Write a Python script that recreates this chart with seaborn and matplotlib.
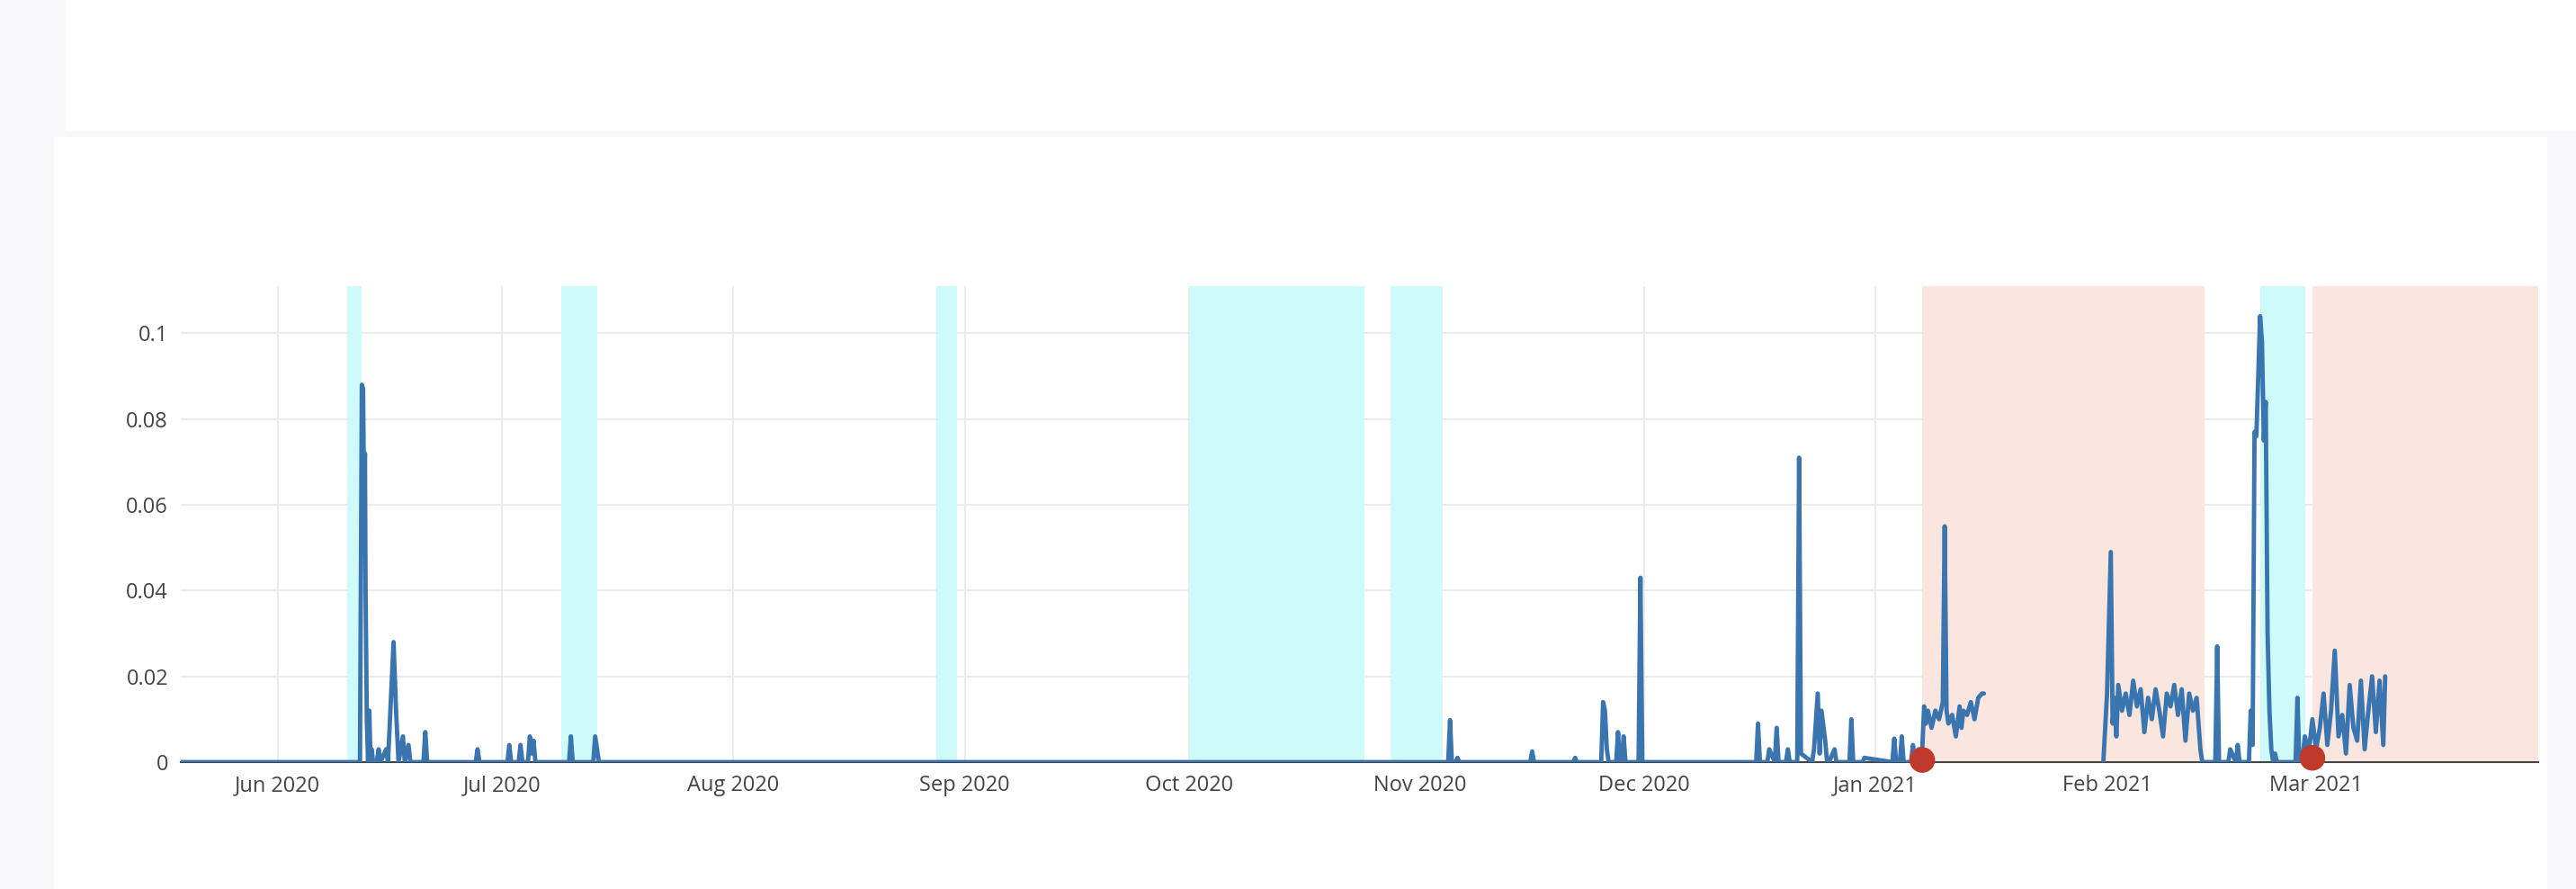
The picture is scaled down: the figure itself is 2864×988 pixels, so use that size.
import matplotlib
matplotlib.use("Agg")
import matplotlib.pyplot as plt
import matplotlib.dates as mdates
import seaborn as sns
import pandas as pd
from matplotlib.patches import Rectangle

sns.set_theme(style="white")
plt.rcParams['font.family'] = ['Open Sans', 'DejaVu Sans']

# ---- data ----
times = [
 "2020-05-18 00","2020-06-12 00","2020-06-12 06","2020-06-12 10","2020-06-12 12","2020-06-12 14","2020-06-12 16","2020-06-12 18","2020-06-12 22","2020-06-13 02","2020-06-13 06","2020-06-13 10","2020-06-13 14","2020-06-13 18",
 "2020-06-14 06","2020-06-14 12","2020-06-14 18","2020-06-15 12","2020-06-15 18","2020-06-16 12","2020-06-16 20","2020-06-17 04","2020-06-17 18","2020-06-18 00","2020-06-18 06","2020-06-18 12","2020-06-18 18","2020-06-20 12","2020-06-20 18","2020-06-21 00",
 "2020-06-27 12","2020-06-27 18","2020-06-28 00","2020-07-01 18","2020-07-02 00","2020-07-02 06","2020-07-03 06","2020-07-03 12","2020-07-03 18","2020-07-04 12","2020-07-04 18","2020-07-05 00","2020-07-05 06","2020-07-05 12",
 "2020-07-10 00","2020-07-10 06","2020-07-10 12","2020-07-13 06","2020-07-13 12","2020-07-13 18","2020-07-14 00",
 "2020-11-04 18","2020-11-05 00","2020-11-05 06","2020-11-05 18","2020-11-06 00","2020-11-06 06","2020-11-15 18","2020-11-16 00","2020-11-16 06","2020-11-21 12","2020-11-21 18","2020-11-22 00",
 "2020-11-25 06","2020-11-25 12","2020-11-25 18","2020-11-26 00","2020-11-26 06","2020-11-27 06","2020-11-27 12","2020-11-27 18","2020-11-28 00","2020-11-28 06","2020-11-28 12","2020-11-30 06","2020-11-30 12","2020-11-30 18",
 "2020-12-16 00","2020-12-16 06","2020-12-16 12","2020-12-17 12","2020-12-17 18","2020-12-18 12","2020-12-18 18","2020-12-19 00","2020-12-20 00","2020-12-20 06","2020-12-20 12","2020-12-21 12","2020-12-21 18","2020-12-22 00","2020-12-23 12","2020-12-23 18","2020-12-24 06","2020-12-24 12","2020-12-24 18","2020-12-25 06","2020-12-25 12","2020-12-25 18","2020-12-26 12","2020-12-26 18","2020-12-28 12","2020-12-28 18","2020-12-29 00","2020-12-30 06","2020-12-30 12",
 "2021-01-03 06","2021-01-03 12","2021-01-03 18","2021-01-04 06","2021-01-04 12","2021-01-04 18","2021-01-05 18","2021-01-06 00","2021-01-06 06","2021-01-06 18",
 "2021-01-07 06","2021-01-07 12","2021-01-07 18","2021-01-08 00","2021-01-08 12","2021-01-09 00","2021-01-09 12","2021-01-10 00","2021-01-10 06","2021-01-10 12","2021-01-10 18","2021-01-11 06","2021-01-11 18","2021-01-12 06","2021-01-12 12","2021-01-12 18","2021-01-13 06","2021-01-13 18","2021-01-14 06","2021-01-14 18","2021-01-15 06","2021-01-15 12","2021-01-15 13",
 "2021-01-31 12","2021-02-01 00","2021-02-01 12","2021-02-01 18","2021-02-02 00","2021-02-02 06","2021-02-02 12","2021-02-03 00","2021-02-03 12","2021-02-04 00","2021-02-04 12","2021-02-05 00","2021-02-05 12","2021-02-06 00","2021-02-06 12","2021-02-07 00","2021-02-07 12","2021-02-08 00","2021-02-08 12","2021-02-09 00","2021-02-09 12","2021-02-10 00","2021-02-10 12","2021-02-11 00","2021-02-11 12","2021-02-12 00","2021-02-12 12","2021-02-13 00","2021-02-13 12","2021-02-13 18",
 "2021-02-15 12","2021-02-15 18","2021-02-16 00","2021-02-17 06","2021-02-17 12","2021-02-18 06","2021-02-18 12","2021-02-18 18",
 "2021-02-20 00","2021-02-20 06","2021-02-20 12","2021-02-20 18","2021-02-21 00","2021-02-21 06","2021-02-21 12","2021-02-21 18","2021-02-22 00","2021-02-22 06","2021-02-22 12","2021-02-22 18","2021-02-23 00","2021-02-23 06","2021-02-23 12","2021-02-23 18",
 "2021-02-26 06","2021-02-26 12","2021-02-26 18","2021-02-27 06","2021-02-27 12","2021-02-28 00","2021-02-28 12","2021-03-01 00","2021-03-01 12","2021-03-02 00","2021-03-02 12","2021-03-03 00","2021-03-03 12","2021-03-04 00","2021-03-04 12","2021-03-05 00","2021-03-05 12","2021-03-06 00","2021-03-06 12","2021-03-07 00","2021-03-07 12","2021-03-08 00","2021-03-08 12","2021-03-09 00","2021-03-09 12","2021-03-10 00","2021-03-10 06",
]
values = [
 0,0,0.088,0.087,0.07,0.063,0.072,0.04,0.01,0,0.012,0,0.003,0,
 0,0.003,0,0.003,0,0.028,0.012,0,0.006,0,0.002,0.004,0,0,0.007,0,
 0,0.003,0,0,0.004,0,0,0.004,0,0,0.006,0.002,0.005,0,
 0,0.006,0,0,0.006,0.003,0,
 0,0.0098,0,0,0.001,0,0,0.0025,0,0,0.001,0,
 0,0.014,0.012,0.003,0,0,0.007,0,0,0.006,0,0,0.043,0,
 0,0.009,0,0,0.003,0,0.008,0,0,0.003,0,0,0.071,0.002,0,0.003,0.016,0.002,0.012,0.005,0,0,0.003,0,0,0.010,0,0,0.001,
 0,0.0055,0,0,0.006,0,0,0.004,0.001,0.003,
 0.003,0.013,0.009,0.012,0.008,0.012,0.01,0.014,0.055,0.012,0.009,0.011,0.006,0.013,0.008,0.012,0.011,0.014,0.01,0.015,0.016,0.016,None,
 0,0.016,0.049,0.009,0.015,0.006,0.018,0.012,0.016,0.011,0.019,0.013,0.017,0.007,0.015,0.01,0.017,0.012,0.006,0.016,0.013,0.018,0.011,0.017,0.005,0.016,0.012,0.015,0.003,0,
 0,0.027,0,0,0.003,0,0.004,0,
 0,0.012,0.004,0.077,0.076,0.09,0.104,0.098,0.075,0.084,0.03,0.012,0.003,0,0.002,0,
 0,0.015,0,0.002,0.006,0.002,0.01,0.003,0.008,0.016,0.004,0.012,0.026,0.006,0.011,0.002,0.018,0.008,0.005,0.019,0.003,0.012,0.02,0.007,0.019,0.004,0.02,
]
cyan_spans = [("2020-06-10 06","2020-06-12 06"),("2020-07-09","2020-07-13 18"),("2020-08-28 06","2020-08-31"),
              ("2020-10-01","2020-10-24 12"),("2020-10-28","2020-11-04"),("2021-02-21 12","2021-02-27 12")]
salmon_spans = [("2021-01-07 06","2021-02-14"),("2021-02-28 12","2021-03-31 12")]
event_times = ["2021-01-07 06","2021-02-28 12"]
event_values = [0.0005,0.001]

df = pd.DataFrame({"time": pd.to_datetime(times), "value": pd.array(values, dtype="Float64").astype(float)})

fig = plt.figure(figsize=(28.64, 9.88), dpi=100)
fig.patch.set_facecolor("#f8f8fa")
fig.add_artist(Rectangle((73/2864, 1-146/988), 1-73/2864, 146/988, transform=fig.transFigure, facecolor="white", edgecolor="none", zorder=0))
fig.add_artist(Rectangle((60/2864, 0), 2772/2864, 1-152/988, transform=fig.transFigure, facecolor="white", edgecolor="none", zorder=0))

ax = fig.add_axes([201/2864, 1-847/988, (2822-201)/2864, (847-318)/988])
ax.set_facecolor("white")
for a, b in cyan_spans:
    ax.axvspan(pd.Timestamp(a), pd.Timestamp(b), color="#cefafa", lw=0, zorder=1)
for a, b in salmon_spans:
    ax.axvspan(pd.Timestamp(a), pd.Timestamp(b), color="#fae6de", lw=0, zorder=1)
ax.plot([pd.Timestamp("2020-10-01"), pd.Timestamp("2020-10-24")], [0, 0], color="#f0a050", lw=1.5, zorder=2)
ax.plot(df["time"], df["value"], color="#3a75b0", lw=3.5, zorder=3)
sns.scatterplot(x=pd.to_datetime(event_times), y=event_values, ax=ax, s=420, color="#c0392b", zorder=4, clip_on=False, edgecolor="none")

ax.set_xlim(pd.Timestamp("2020-05-19 00"), pd.Timestamp("2021-03-30 18"))
ax.set_ylim(0, 0.111)
ax.set_yticks([0, 0.02, 0.04, 0.06, 0.08, 0.1])
ax.set_yticklabels(["0", "0.02", "0.04", "0.06", "0.08", "0.1"])
ax.xaxis.set_major_locator(mdates.MonthLocator())
ax.xaxis.set_major_formatter(mdates.DateFormatter("%b %Y"))
ax.grid(True, color="#ebebeb", lw=1.5, zorder=0)
ax.set_axisbelow(True)
for s in ["top", "right", "left"]:
    ax.spines[s].set_visible(False)
ax.spines["bottom"].set_color("#444444")
ax.spines["bottom"].set_linewidth(1.5)
ax.tick_params(axis="both", labelsize=17, colors="#444444", length=0, pad=10)
ax.set_xlabel("")
ax.set_ylabel("")
fig.savefig("out.png", dpi=100, facecolor=fig.get_facecolor())
